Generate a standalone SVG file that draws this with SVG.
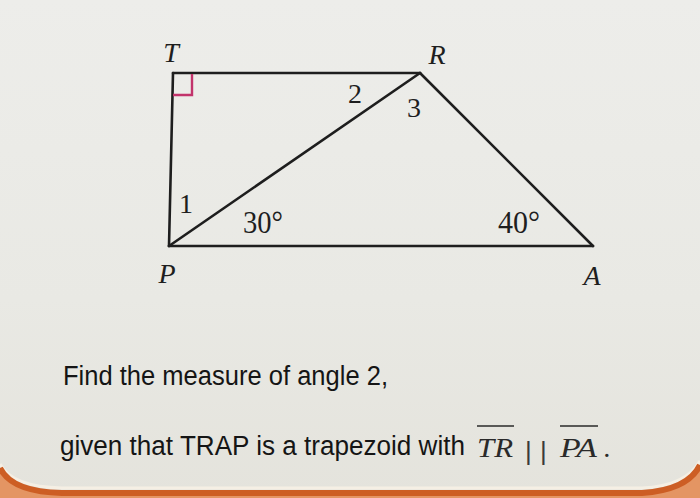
<svg xmlns="http://www.w3.org/2000/svg" width="700" height="498" viewBox="0 0 700 498">
<defs>
<linearGradient id="bg" x1="0" y1="0" x2="0" y2="1">
<stop offset="0" stop-color="#ededea"/>
<stop offset="0.6" stop-color="#e9e9e4"/>
<stop offset="1" stop-color="#e4e3dc"/>
</linearGradient>
<style>
.edge{stroke:#1e1e1e;stroke-width:2.6;fill:none;stroke-linecap:round}
.lbl{font-family:"Liberation Serif","Times New Roman",serif;font-style:italic;font-size:28px;fill:#1e1e1e;text-anchor:middle}
.num{font-family:"Liberation Serif","Times New Roman",serif;font-size:28px;fill:#1e1e1e;text-anchor:middle}
.deg{font-family:"Liberation Serif","Times New Roman",serif;font-size:31px;fill:#1e1e1e}
.txt{font-family:"Liberation Sans",Arial,sans-serif;font-size:27px;fill:#151515}
.seg{font-family:"Liberation Serif","Times New Roman",serif;font-style:italic;font-size:28px;fill:#2a2a2a}
</style>
</defs>
<rect width="700" height="498" fill="url(#bg)"/>
<!-- orange frame at bottom -->
<path d="M0,470 Q12,493 62,494 L642,494 Q688,492 700,466 L700,498 L0,498 Z" fill="#e49563"/>
<path d="M0,464 Q12,487 62,488 L642,488 Q686,486 700,461" fill="none" stroke="#f5efe4" stroke-width="3"/>
<path d="M0,468 Q12,492 62,493 L642,493 Q688,490 700,465" fill="none" stroke="#cd5e24" stroke-width="6"/>

<g id="connectors">
<line class="edge" x1="173" y1="73" x2="420" y2="73"/>
<line class="edge" x1="420" y1="73" x2="593" y2="246"/>
<line class="edge" x1="593" y1="246" x2="169" y2="246"/>
<line class="edge" x1="169" y1="246" x2="173" y2="73"/>
<line class="edge" x1="169" y1="246" x2="420" y2="73"/>
</g>
<g id="right-angle">
<path d="M173,95 L192,95 L192,74" fill="none" stroke="#c2336b" stroke-width="2.4"/>
</g>
<g id="node-T"><text class="lbl" x="171" y="62">T</text></g>
<g id="node-R"><text class="lbl" x="437" y="64">R</text></g>
<g id="node-P"><text class="lbl" x="167" y="283">P</text></g>
<g id="node-A"><text class="lbl" x="592" y="285">A</text></g>
<g id="angle-1"><text class="num" x="186" y="213">1</text></g>
<g id="angle-2"><text class="num" x="355" y="103">2</text></g>
<g id="angle-3"><text class="num" x="414" y="117">3</text></g>
<g id="angle-30"><text class="deg" x="243" y="233" textLength="40" lengthAdjust="spacingAndGlyphs">30°</text></g>
<g id="angle-40"><text class="deg" x="498" y="233" textLength="42" lengthAdjust="spacingAndGlyphs">40°</text></g>

<g id="question">
<text class="txt" x="63" y="385" textLength="325" lengthAdjust="spacingAndGlyphs">Find the measure of angle 2,</text>
<text class="txt" x="60" y="455" textLength="405" lengthAdjust="spacingAndGlyphs">given that TRAP is a trapezoid with</text>
<text class="seg" x="477" y="457" textLength="36" lengthAdjust="spacingAndGlyphs">TR</text>
<line x1="477" y1="426" x2="514" y2="426" stroke="#2a2a2a" stroke-width="1.6"/>
<text font-family="Liberation Sans, Arial, sans-serif" font-size="26" fill="#3a3a3a"><tspan x="525" y="460">|</tspan><tspan x="540" y="460">|</tspan></text>
<text class="seg" x="560" y="457" textLength="37" lengthAdjust="spacingAndGlyphs">PA</text>
<line x1="560" y1="426" x2="598" y2="426" stroke="#2a2a2a" stroke-width="1.6"/>
<text class="seg" x="604" y="457">.</text>
</g>
</svg>
